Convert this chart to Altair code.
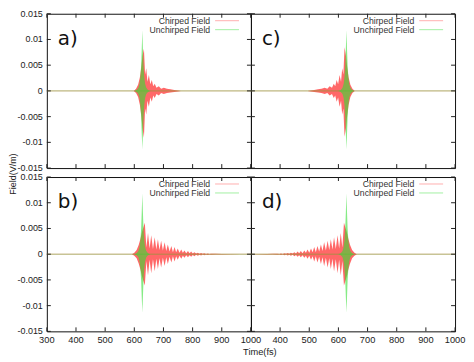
import altair as alt
import pandas as pd

# ---------------- data ----------------
x_ticks = [300, 400, 500, 600, 700, 800, 900, 1000]
y_ticks = [-0.015, -0.01, -0.005, 0, 0.005, 0.01, 0.015]
series_names = ["Chirped Field", "Unchirped Field"]
panel_labels = ["a)", "b)", "c)", "d)"]
x_title = "Time(fs)"
y_title = "Field(V/m)"

# Unchirped field (envelope, same pulse in all panels)
green_t = [300, 600, 608, 614, 618, 621, 623.5, 625.5, 627.6, 629.5, 631.5, 634, 637, 641, 647, 655, 1000]
green_hi = [0, 0, 0.0002, 0.0006, 0.0014, 0.0028, 0.0050, 0.0082, 0.0118, 0.0082, 0.0050, 0.0028, 0.0014, 0.0006, 0.0002, 0, 0]
green_lo = [0, 0, -0.0002, -0.0006, -0.0014, -0.0029, -0.0051, -0.0084, -0.0114, -0.0084, -0.0051, -0.0029, -0.0014, -0.0006, -0.0002, 0, 0]

# Chirped field, panel a)
a_t = [300, 598, 606, 613, 619, 624, 628, 633, 637, 641, 645, 650, 655, 660, 665, 670, 676, 684, 692, 701, 712, 724, 737, 750, 760, 1000]
a_hi = [0, 0, 0.0004, 0.0012, 0.0026, 0.0046, 0.0068, 0.0082, 0.0032, 0.0044, 0.0018, 0.0031, 0.0013, 0.0021, 0.0009, 0.0014, 0.0006, 0.0009, 0.0004, 0.0006, 0.0004, 0.0003, 0.0002, 0.0001, 0, 0]
a_lo = [0, 0, -0.0004, -0.0012, -0.0027, -0.0048, -0.0072, -0.0091, -0.0034, -0.0046, -0.0019, -0.0031, -0.0013, -0.0021, -0.0009, -0.0014, -0.0006, -0.0009, -0.0004, -0.0006, -0.0004, -0.0003, -0.0002, -0.0001, 0, 0]

# Chirped field, panel c)
c_t = [300, 494, 504, 517, 530, 542, 553, 562, 570, 578, 584, 589, 594, 599, 604, 609, 613, 617, 621, 626, 630, 635, 641, 648, 656, 1000]
c_hi = [0, 0, 0.0001, 0.0002, 0.0003, 0.0004, 0.0006, 0.0004, 0.0009, 0.0006, 0.0014, 0.0009, 0.0021, 0.0013, 0.0031, 0.0018, 0.0044, 0.0032, 0.0085, 0.0068, 0.0046, 0.0026, 0.0012, 0.0004, 0, 0]
c_lo = [0, 0, -0.0001, -0.0002, -0.0003, -0.0004, -0.0006, -0.0004, -0.0009, -0.0006, -0.0014, -0.0009, -0.0021, -0.0013, -0.0031, -0.0019, -0.0046, -0.0034, -0.0089, -0.0072, -0.0048, -0.0027, -0.0012, -0.0004, 0, 0]

# Chirped field, panel b)
b_t = [300, 592, 600, 608, 615, 621, 626, 630, 636, 641.5, 647, 652.5, 658, 664, 670, 675.5, 681, 686.5, 692, 698,
       704, 709.5, 715, 721, 727, 732.5, 738, 743.5, 749, 755, 761, 766.5, 772, 778, 784, 789.5, 795, 800.5, 806, 812,
       818, 823.5, 829, 834.5, 840, 846, 852, 857.5, 863, 880, 900, 930, 960, 1000]
b_hi = [0, 0, 0.0003, 0.0008, 0.0018, 0.0030, 0.0042, 0.0050, 0.0061, 0.0013, 0.0041, 0.0011, 0.0037, 0.0010, 0.0033, 0.0009, 0.0029, 0.0008, 0.0026, 0.0007,
        0.0023, 0.0006, 0.0019, 0.0005, 0.0016, 0.0004, 0.0014, 0.0004, 0.0011, 0.0003, 0.0009, 0.0003, 0.0007, 0.0002, 0.0006, 0.0002, 0.0005, 0.00015, 0.0004, 0.00012,
        0.0003, 0.0001, 0.00025, 0.00008, 0.0002, 0.00006, 0.00015, 0.00005, 0.0001, 0.00008, 0.00005, 0.00003, 0, 0]
b_lo = [0, 0, -0.0003, -0.0008, -0.0018, -0.0030, -0.0042, -0.0050, -0.0061, -0.0013, -0.0041, -0.0011, -0.0037, -0.0010, -0.0033, -0.0009, -0.0029, -0.0008, -0.0026, -0.0007,
        -0.0023, -0.0006, -0.0019, -0.0005, -0.0016, -0.0004, -0.0014, -0.0004, -0.0011, -0.0003, -0.0009, -0.0003, -0.0007, -0.0002, -0.0006, -0.0002, -0.0005, -0.00015, -0.0004, -0.00012,
        -0.0003, -0.0001, -0.00025, -0.00008, -0.0002, -0.00006, -0.00015, -0.00005, -0.0001, -0.00008, -0.00005, -0.00003, 0, 0]

# Chirped field, panel d)
d_t = [300, 325, 355, 375, 392, 397.5, 403, 409, 415, 420.5, 426, 431.5, 437, 443, 449, 454.5, 460, 465.5, 471, 477,
       483, 488.5, 494, 500, 506, 511.5, 517, 522.5, 528, 534, 540, 545.5, 551, 557, 563, 568.5, 574, 579.5, 585, 591,
       597, 602.5, 608, 613.5, 619, 625, 629, 634, 640, 647, 655, 663, 1000]
d_hi = [0, 0.00003, 0.00005, 0.00008, 0.0001, 0.00005, 0.00015, 0.00006, 0.0002, 0.00008, 0.00025, 0.0001, 0.0003, 0.00012, 0.0004, 0.00015, 0.0005, 0.0002, 0.0006, 0.0002,
        0.0007, 0.0003, 0.0009, 0.0003, 0.0011, 0.0004, 0.0014, 0.0004, 0.0016, 0.0005, 0.0019, 0.0006, 0.0023, 0.0007, 0.0026, 0.0008, 0.0029, 0.0009, 0.0033, 0.0010,
        0.0037, 0.0011, 0.0041, 0.0013, 0.0061, 0.0050, 0.0042, 0.0030, 0.0018, 0.0008, 0.0003, 0, 0]
d_lo = [0, -0.00003, -0.00005, -0.00008, -0.0001, -0.00005, -0.00015, -0.00006, -0.0002, -0.00008, -0.00025, -0.0001, -0.0003, -0.00012, -0.0004, -0.00015, -0.0005, -0.0002, -0.0006, -0.0002,
        -0.0007, -0.0003, -0.0009, -0.0003, -0.0011, -0.0004, -0.0014, -0.0004, -0.0016, -0.0005, -0.0019, -0.0006, -0.0023, -0.0007, -0.0026, -0.0008, -0.0029, -0.0009, -0.0033, -0.0010,
        -0.0037, -0.0011, -0.0041, -0.0013, -0.0061, -0.0050, -0.0042, -0.0030, -0.0018, -0.0008, -0.0003, 0, 0]

# ---------------- styling ----------------
RED = "#ff4d4d"
GREEN = "#33dd33"
W, H = 205, 155
FONT = "Liberation Sans"
TICK_LEN = 4
TXT = "#222"

xs = alt.Scale(domain=[300, 1000], nice=False, zero=False)
ys = alt.Scale(domain=[-0.015, 0.015], nice=False, zero=False)


def fmt_y(v):
    s = ("%.3f" % v).rstrip("0").rstrip(".")
    return "0" if s in ("-0", "0", "") else s


x_label_text = [str(v) for v in x_ticks]
y_label_text = [fmt_y(v) for v in y_ticks]


def panel(t, hi, lo, letter, bottom, right):
    chirp = pd.DataFrame({"t": t, "hi": hi, "lo": lo})
    green = pd.DataFrame({"t": green_t, "hi": green_hi, "lo": green_lo})
    X = lambda f: alt.X(f, scale=xs, axis=None)
    Y = lambda f: alt.Y(f, scale=ys, axis=None)

    red_area = alt.Chart(chirp).mark_area(color=RED, opacity=0.85).encode(
        x=X("t:Q"), y=Y("hi:Q"), y2="lo:Q")
    base_red = alt.Chart(chirp).mark_line(color=RED, opacity=0.7, strokeWidth=0.8).encode(
        x=X("t:Q"), y=alt.YDatum(0, scale=ys, axis=None))
    base_green = alt.Chart(green).mark_line(color=GREEN, opacity=0.5, strokeWidth=0.8).encode(
        x=X("t:Q"), y=alt.YDatum(0, scale=ys, axis=None))
    green_area = alt.Chart(green).mark_area(color=GREEN, opacity=0.6).encode(
        x=X("t:Q"), y=Y("hi:Q"), y2="lo:Q")

    xt = pd.DataFrame({"v": x_ticks, "lab": x_label_text})
    yt = pd.DataFrame({"v": y_ticks, "lab": y_label_text})
    tick_color = "#222"
    tb = alt.Chart(xt).mark_rule(color=tick_color, strokeWidth=1).encode(
        x=X("v:Q"), y=alt.value(H), y2=alt.value(H - TICK_LEN))
    tt = alt.Chart(xt).mark_rule(color=tick_color, strokeWidth=1).encode(
        x=X("v:Q"), y=alt.value(0), y2=alt.value(TICK_LEN))
    tl = alt.Chart(yt).mark_rule(color=tick_color, strokeWidth=1).encode(
        y=Y("v:Q"), x=alt.value(0), x2=alt.value(TICK_LEN))
    tr = alt.Chart(yt).mark_rule(color=tick_color, strokeWidth=1).encode(
        y=Y("v:Q"), x=alt.value(W), x2=alt.value(W - TICK_LEN))

    layers = [red_area, base_red, base_green, green_area, tb, tt, tl, tr]

    # tick labels
    if bottom:
        xl = xt[xt["v"] != 300] if right else xt
        layers.append(alt.Chart(xl).mark_text(
            align="center", baseline="top", font=FONT, fontSize=9.3, color=TXT).encode(
            x=X("v:Q"), y=alt.value(H + 4.5), text="lab:N"))
    if not right:
        layers.append(alt.Chart(yt).mark_text(
            align="right", baseline="middle", font=FONT, fontSize=9, color=TXT).encode(
            y=Y("v:Q"), x=alt.value(-4), text="lab:N"))
    if letter == panel_labels[0]:
        layers.append(alt.Chart(pd.DataFrame({"lab": [y_title]})).mark_text(
            align="center", baseline="top", angle=270, font=FONT, fontSize=9, color=TXT).encode(
            text="lab:N", x=alt.value(-38), y=alt.value(161)))
    if letter == panel_labels[3]:
        layers.append(alt.Chart(pd.DataFrame({"lab": [x_title]})).mark_text(
            align="center", baseline="middle", font=FONT, fontSize=9.3, color=TXT).encode(
            text="lab:N", x=alt.value(9), y=alt.value(H + 21)))

    # legend
    for i, (name, col) in enumerate(zip(series_names, [RED, GREEN])):
        ypix = 7 + 9 * i
        layers.append(alt.Chart(pd.DataFrame({"name": [name]})).mark_text(
            align="right", baseline="middle", font=FONT, fontSize=8.7, color="#333").encode(
            text="name:N", x=alt.value(164), y=alt.value(ypix)))
        layers.append(alt.Chart(pd.DataFrame({"name": [name]})).mark_rule(
            color=col, opacity=0.45, strokeWidth=1).encode(
            x=alt.value(169), x2=alt.value(193), y=alt.value(ypix)))

    layers.append(alt.Chart(pd.DataFrame({"lab": [letter]})).mark_text(
        align="left", baseline="alphabetic", font="DejaVu Sans", fontSize=20, color="#111").encode(
        text="lab:N", x=alt.value(11), y=alt.value(31)))

    return alt.layer(*layers).properties(width=W, height=H)


pa = panel(a_t, a_hi, a_lo, panel_labels[0], bottom=False, right=False)
pc = panel(c_t, c_hi, c_lo, panel_labels[2], bottom=False, right=True)
pb = panel(b_t, b_hi, b_lo, panel_labels[1], bottom=True, right=False)
pdd = panel(d_t, d_hi, d_lo, panel_labels[3], bottom=True, right=True)

chart = alt.concat(pa, pc, pb, pdd, columns=2,
                   spacing=alt.RowColnumber(row=9, column=0),
                   bounds="flush").properties(
    padding=0, background="white"
).configure_view(stroke="#111", strokeWidth=1)

chart.save("out.html", embed_options={"renderer": "svg", "actions": False})
